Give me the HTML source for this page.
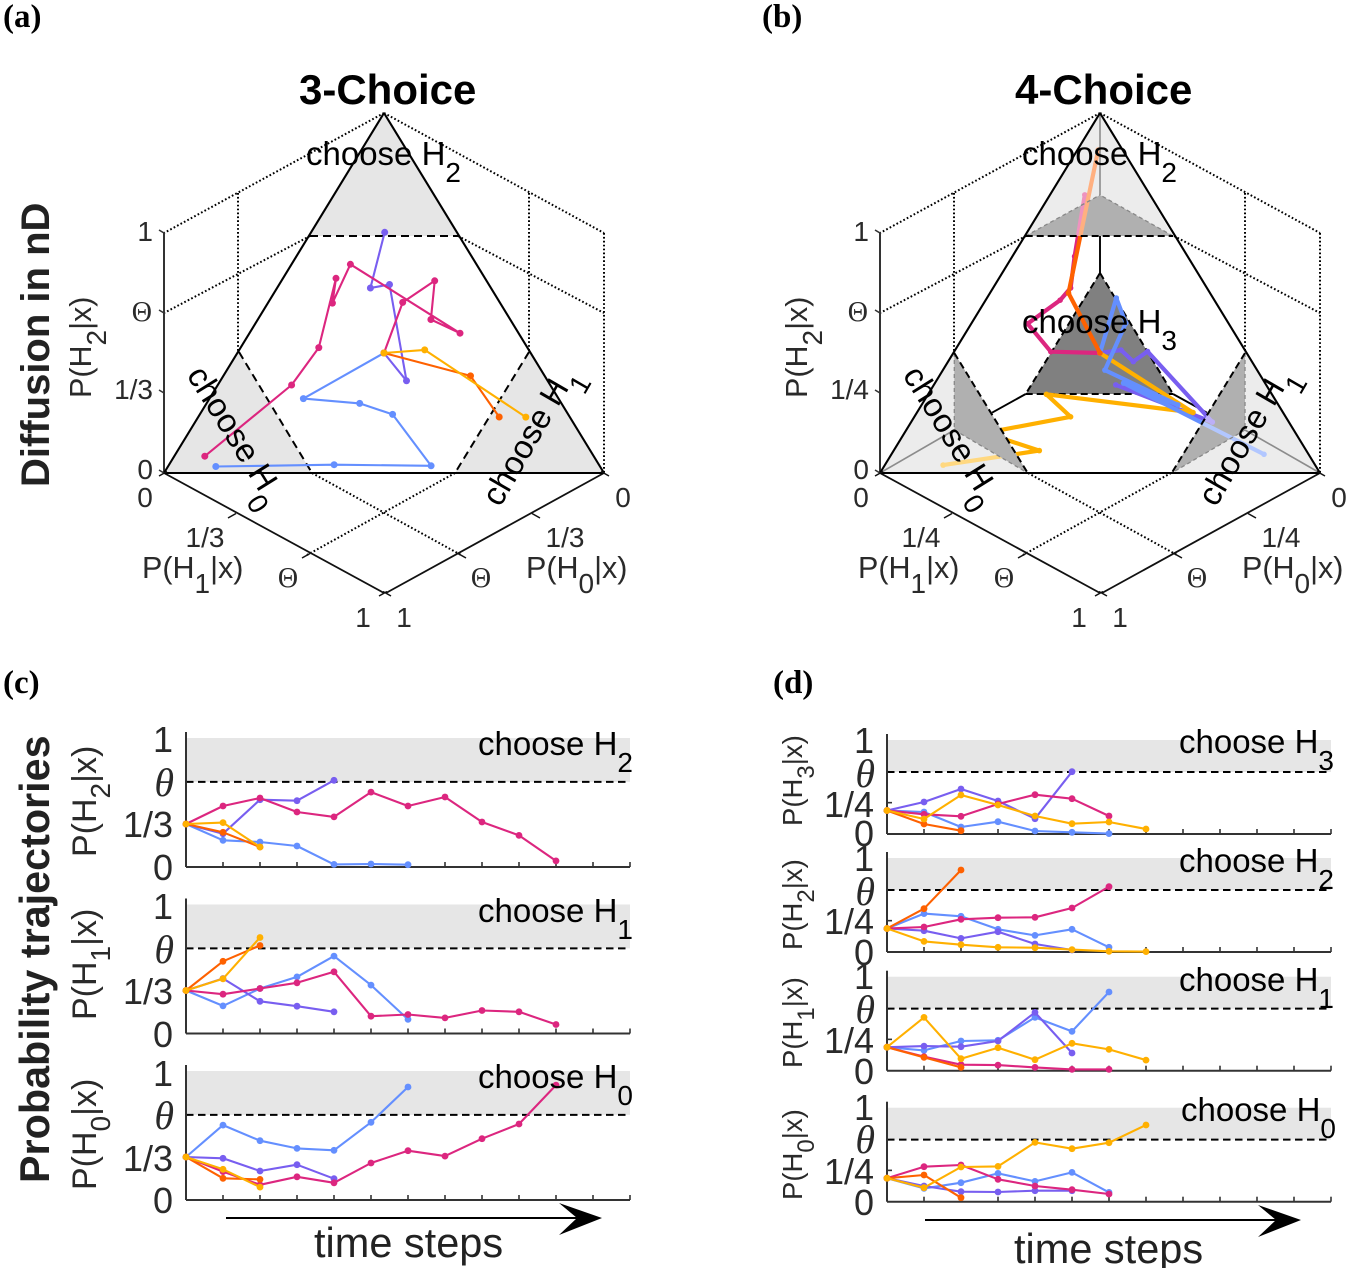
<!DOCTYPE html>
<html lang="en">
<head>
<meta charset="utf-8">
<title>Diffusion in nD and probability trajectories</title>
<style>
html,body{margin:0;padding:0;background:#fff}
svg{display:block}
text{font-family:"Liberation Sans",sans-serif;fill:#1c1c1c}
.choose{font-size:33px;fill:#000}
.choose2{font-size:33px;fill:#000}
.tick28{font-size:28px;fill:#2a2a2a}
.tick36{font-size:36px;fill:#2a2a2a}
.theta{font-family:"Liberation Serif",serif;font-style:italic;font-size:40px;fill:#2a2a2a}
.bigtheta{font-family:"Liberation Serif",serif;font-size:28px;fill:#2a2a2a}
.lab30{font-size:30.5px;fill:#2a2a2a}
.lab34{font-size:34px;fill:#2a2a2a}
.lab27{font-size:27.5px;fill:#2a2a2a}
.title{font-size:42px;font-weight:bold;fill:#000}
.side{font-size:40px;font-weight:bold;fill:#222}
.panel{font-family:"Liberation Serif",serif;font-weight:bold;font-size:33px;fill:#000}
.time{font-size:41.5px;fill:#222}
</style>
</head>
<body>
<svg id="fig" xmlns="http://www.w3.org/2000/svg" width="1346" height="1268" viewBox="0 0 1346 1268">
<g id="marks"></g>
<g id="labels">
<text class="panel" x="3" y="27">(a)</text>
<text class="panel" x="762" y="27">(b)</text>
<text class="panel" x="3" y="693">(c)</text>
<text class="panel" x="773" y="693">(d)</text>
<text class="title" x="299" y="104">3-Choice</text>
<text class="title" x="1015" y="104">4-Choice</text>
<text class="side" transform="translate(49,487) rotate(-90)">Diffusion in nD</text>
<text class="side" style="font-size:41.3px" transform="translate(49,1183) rotate(-90)">Probability trajectories</text>

<!-- Panel a -->
<text class="choose" x="306" y="165">choose H<tspan dy="17" font-size="28">2</tspan></text>
<text class="choose" transform="translate(186,375) rotate(58)">choose H<tspan dy="17" font-size="28">0</tspan></text>
<text class="choose" transform="translate(500,508) rotate(-60)">choose H<tspan dy="17" font-size="28">1</tspan></text>
<text class="tick28" x="153" y="241" text-anchor="end">1</text>
<text class="bigtheta" x="152" y="321" text-anchor="end">&#920;</text>
<text class="tick28" x="153" y="399" text-anchor="end">1/3</text>
<text class="tick28" x="153" y="479" text-anchor="end">0</text>
<text class="lab30" transform="translate(91,398) rotate(-90)">P(H<tspan dy="15" font-size="28">2</tspan><tspan dy="-15">|x)</tspan></text>
<text class="tick28" x="145" y="507" text-anchor="middle">0</text>
<text class="tick28" x="205" y="547" text-anchor="middle">1/3</text>
<text class="lab30" x="142" y="578">P(H<tspan dy="15" font-size="28">1</tspan><tspan dy="-15">|x)</tspan></text>
<text class="bigtheta" x="288" y="587" text-anchor="middle">&#920;</text>
<text class="tick28" x="363" y="627" text-anchor="middle">1</text>
<text class="tick28" x="404" y="627" text-anchor="middle">1</text>
<text class="bigtheta" x="481" y="587" text-anchor="middle">&#920;</text>
<text class="tick28" x="565" y="547" text-anchor="middle">1/3</text>
<text class="lab30" x="526" y="578">P(H<tspan dy="15" font-size="28">0</tspan><tspan dy="-15">|x)</tspan></text>
<text class="tick28" x="623" y="507" text-anchor="middle">0</text>

<!-- Panel b -->
<text class="choose" x="1022" y="165">choose H<tspan dy="17" font-size="28">2</tspan></text>
<text class="choose" x="1022" y="333">choose H<tspan dy="17" font-size="28">3</tspan></text>
<text class="choose" transform="translate(902,375) rotate(58)">choose H<tspan dy="17" font-size="28">0</tspan></text>
<text class="choose" transform="translate(1216,508) rotate(-60)">choose H<tspan dy="17" font-size="28">1</tspan></text>
<text class="tick28" x="869" y="241" text-anchor="end">1</text>
<text class="bigtheta" x="868" y="321" text-anchor="end">&#920;</text>
<text class="tick28" x="869" y="399" text-anchor="end">1/4</text>
<text class="tick28" x="869" y="479" text-anchor="end">0</text>
<text class="lab30" transform="translate(807,398) rotate(-90)">P(H<tspan dy="15" font-size="28">2</tspan><tspan dy="-15">|x)</tspan></text>
<text class="tick28" x="861" y="507" text-anchor="middle">0</text>
<text class="tick28" x="921" y="547" text-anchor="middle">1/4</text>
<text class="lab30" x="858" y="578">P(H<tspan dy="15" font-size="28">1</tspan><tspan dy="-15">|x)</tspan></text>
<text class="bigtheta" x="1004" y="587" text-anchor="middle">&#920;</text>
<text class="tick28" x="1079" y="627" text-anchor="middle">1</text>
<text class="tick28" x="1120" y="627" text-anchor="middle">1</text>
<text class="bigtheta" x="1197" y="587" text-anchor="middle">&#920;</text>
<text class="tick28" x="1281" y="547" text-anchor="middle">1/4</text>
<text class="lab30" x="1242" y="578">P(H<tspan dy="15" font-size="28">0</tspan><tspan dy="-15">|x)</tspan></text>
<text class="tick28" x="1339" y="507" text-anchor="middle">0</text>

<!-- Panel c -->
<text class="choose2" x="478" y="755">choose H<tspan dy="17" font-size="28">2</tspan></text>
<text class="choose2" x="478" y="922">choose H<tspan dy="17" font-size="28">1</tspan></text>
<text class="choose2" x="478" y="1088">choose H<tspan dy="17" font-size="28">0</tspan></text>
<text class="tick36" x="173" y="752" text-anchor="end">1</text>
<text class="theta" x="174" y="796" text-anchor="end">&#952;</text>
<text class="tick36" x="173" y="837" text-anchor="end">1/3</text>
<text class="tick36" x="173" y="880" text-anchor="end">0</text>
<text class="tick36" x="173" y="919" text-anchor="end">1</text>
<text class="theta" x="174" y="963" text-anchor="end">&#952;</text>
<text class="tick36" x="173" y="1004" text-anchor="end">1/3</text>
<text class="tick36" x="173" y="1047" text-anchor="end">0</text>
<text class="tick36" x="173" y="1086" text-anchor="end">1</text>
<text class="theta" x="174" y="1129" text-anchor="end">&#952;</text>
<text class="tick36" x="173" y="1171" text-anchor="end">1/3</text>
<text class="tick36" x="173" y="1213" text-anchor="end">0</text>
<text class="lab34" transform="translate(96,857) rotate(-90)">P(H<tspan dy="14" font-size="28">2</tspan><tspan dy="-14">|x)</tspan></text>
<text class="lab34" transform="translate(96,1020) rotate(-90)">P(H<tspan dy="14" font-size="28">1</tspan><tspan dy="-14">|x)</tspan></text>
<text class="lab34" transform="translate(96,1190) rotate(-90)">P(H<tspan dy="14" font-size="28">0</tspan><tspan dy="-14">|x)</tspan></text>
<text class="time" x="314" y="1257">time steps</text>

<!-- Panel d -->
<text class="choose2" x="1179" y="753">choose H<tspan dy="17" font-size="28">3</tspan></text>
<text class="choose2" x="1179" y="872">choose H<tspan dy="17" font-size="28">2</tspan></text>
<text class="choose2" x="1179" y="991">choose H<tspan dy="17" font-size="28">1</tspan></text>
<text class="choose2" x="1181" y="1121">choose H<tspan dy="17" font-size="28">0</tspan></text>
<text class="tick36" x="874" y="753" text-anchor="end">1</text>
<text class="theta" x="875" y="787" text-anchor="end">&#952;</text>
<text class="tick36" x="874" y="817" text-anchor="end">1/4</text>
<text class="tick36" x="874" y="846" text-anchor="end">0</text>
<text class="tick36" x="874" y="871" text-anchor="end">1</text>
<text class="theta" x="875" y="905" text-anchor="end">&#952;</text>
<text class="tick36" x="874" y="934" text-anchor="end">1/4</text>
<text class="tick36" x="874" y="965" text-anchor="end">0</text>
<text class="tick36" x="874" y="989" text-anchor="end">1</text>
<text class="theta" x="875" y="1023" text-anchor="end">&#952;</text>
<text class="tick36" x="874" y="1053" text-anchor="end">1/4</text>
<text class="tick36" x="874" y="1084" text-anchor="end">0</text>
<text class="tick36" x="874" y="1120" text-anchor="end">1</text>
<text class="theta" x="875" y="1153" text-anchor="end">&#952;</text>
<text class="tick36" x="874" y="1184" text-anchor="end">1/4</text>
<text class="tick36" x="874" y="1215" text-anchor="end">0</text>
<text class="lab27" transform="translate(802,826) rotate(-90)">P(H<tspan dy="12" font-size="24">3</tspan><tspan dy="-12">|x)</tspan></text>
<text class="lab27" transform="translate(802,950) rotate(-90)">P(H<tspan dy="12" font-size="24">2</tspan><tspan dy="-12">|x)</tspan></text>
<text class="lab27" transform="translate(802,1068) rotate(-90)">P(H<tspan dy="12" font-size="24">1</tspan><tspan dy="-12">|x)</tspan></text>
<text class="lab27" transform="translate(802,1200) rotate(-90)">P(H<tspan dy="12" font-size="24">0</tspan><tspan dy="-12">|x)</tspan></text>
<text class="time" x="1014" y="1263">time steps</text>
</g>
</svg>
<script>
// ---- 3-choice trajectories (panels a, c) ----
const blue3H0=[.333,.581,.46,.4,.385,.602,.876];
const blue3H1=[.333,.214,.349,.439,.6,.375,.109];
const blue3H2=[.333,.207,.194,.163,.02,.023,.018];
const purple3H0=[.333,.323,.225,.274,.165];
const purple3H1=[.333,.426,.25,.212,.168];
const purple3H2=[.333,.258,.522,.514,.672];
const magenta3H0=[.333,.22,.118,.18,.133,.287,.382,.34,.475,.589,.891];
const magenta3H1=[.333,.305,.349,.393,.478,.134,.147,.121,.178,.168,.07];
const magenta3H2=[.333,.473,.535,.426,.388,.581,.473,.543,.349,.245,.047];
const orange3H0=[.333,.168,.16];
const orange3H1=[.333,.56,.682];
const orange3H2=[.333,.269,.155];
const yellow3H0=[.333,.238,.1];
const yellow3H1=[.333,.424,.744];
const yellow3H2=[.333,.344,.155];

// ---- 4-choice trajectories (panels b, d) ----
const blue4H0=[.25,.142,.202,.301,.216,.312,.099];
const blue4H1=[.25,.216,.316,.323,.567,.418,.837];
const blue4H2=[.25,.408,.38,.241,.177,.241,.05];
const blue4H3=[.25,.234,.074,.131,.032,.018,.004];
const purple4H0=[.25,.167,.106,.103,.117,.117];
const purple4H1=[.25,.262,.255,.316,.62,.188];
const purple4H2=[.25,.227,.145,.216,.085,.021];
const purple4H3=[.25,.34,.479,.351,.163,.663];
const magenta4H0=[.25,.372,.39,.238,.167,.128,.082];
const magenta4H1=[.25,.149,.064,.06,.035,.014,.014];
const magenta4H2=[.25,.266,.348,.365,.369,.468,.695];
const magenta4H3=[.25,.21,.188,.319,.418,.376,.191];
const orange4H0=[.25,.284,.043];
const orange4H1=[.25,.142,.035];
const orange4H2=[.25,.461,.872];
const orange4H3=[.25,.106,.035];
const yellow4H0=[.25,.149,.369,.376,.631,.564,.628,.816];
const yellow4H1=[.25,.567,.128,.245,.117,.291,.227,.113];
const yellow4H2=[.25,.113,.078,.05,.046,.025,.007,.004];
const yellow4H3=[.25,.16,.415,.309,.191,.11,.128,.053];

const colBlue='#648FFF', colPurple='#785EF0', colMagenta='#DC267F', colOrange='#FE6100', colYellow='#FFB000';
const threshold=0.66;

const NS='http://www.w3.org/2000/svg';
const root=document.getElementById('marks');
function mk(tag,parent,name,attrs){
  const el=document.createElementNS(NS,tag);
  
  
  for(const k in attrs) el.setAttribute(k,attrs[k]);
  parent.appendChild(el);
  return el;
}
function line(p,name,x1,y1,x2,y2,stroke,w,dash){
  const a={x1:x1,y1:y1,x2:x2,y2:y2,stroke:stroke,'stroke-width':w};
  if(dash) a['stroke-dasharray']=dash;
  return mk('line',p,name,a);
}
function poly(p,name,pts,fill,extra){
  const a=Object.assign({points:pts.map(q=>q.join(',')).join(' '),fill:fill},extra||{});
  return mk('polygon',p,name,a);
}
function group(name){return mk('g',root,name,{});}

// Axis functions for the simplex plots
function simplexX(dx,p0,p1,p2,p3){
  const s=p0+p1+p2+(p3||0);
  const c=(p3||0)/3;
  return dx+(164*(p0+c)+604*(p1+c)+384*(p2+c))/s;
}
function simplexY(p0,p1,p2,p3){
  const s=p0+p1+p2+(p3||0);
  const c=(p3||0)/3;
  return 473-360*(p2+c)/s;
}

function simplexFrame(g,dx,pfx){
  const dot='1.7 2.2';
  const L=(n,a,b,c,d)=>line(g,pfx+n,a+dx,b,c+dx,d,'#000',2,dot);
  L('-dotted-top-left',384,113,164,233);
  L('-dotted-top-right',384,113,604,233);
  L('-dotted-theta-left',310,236,164,313);
  L('-dotted-theta-right',458,236,604,313);
  L('-dotted-vert-left',238,193,238,352);
  L('-dotted-vert-right',529,193,529,352);
  L('-dotted-right-edge',604,233,604,473);
  L('-dotted-bottom-left',312,473,461,555);
  L('-dotted-bottom-right',455,473,307,555);
}
function simplexAxes(g,dx,pfx){
  const S=(n,a,b,c,d,w,col)=>line(g,pfx+n,a+dx,b,c+dx,d,col||'#111',w||1.8);
  S('-axis-vertical',164,233,164,473,2,'#333');
  S('-axis-lower-left',164,473,384,593);
  S('-axis-lower-right',604,473,386,593);
  S('-tri-left',164,473,384,113,2.1,'#000');
  S('-tri-right',604,473,384,113,2.1,'#000');
  S('-tri-bottom',164,473,604,473,2.1,'#000');
  [233,313,393,473].forEach(y=>S('-tick-left',159,y-3,164,y,1.6,'#333'));
  [[233,515],[307,555],[164,473],[384,593]].forEach(q=>S('-tick-lower-left',q[0]-5,q[1]+3,q[0]+3,q[1]-1.5,1.5));
  [[535,515],[461,555],[604,473],[386,593]].forEach(q=>S('-tick-lower-right',q[0]-3,q[1]-1.5,q[0]+5,q[1]+3,1.5));
}
function trajectory(g,name,dx,col,w,r,P0,P1,P2,P3){
  const pts=P0.map((_,i)=>[simplexX(dx,P0[i],P1[i],P2[i],P3?P3[i]:0),simplexY(P0[i],P1[i],P2[i],P3?P3[i]:0)]);
  mk('polyline',g,name+'-line',{points:pts.map(q=>q.map(v=>v.toFixed(1)).join(',')).join(' '),fill:'none',stroke:col,'stroke-width':w,'stroke-linejoin':'round','stroke-linecap':'round'});
  pts.forEach(q=>mk('circle',g,name+'-point',{cx:q[0].toFixed(1),cy:q[1].toFixed(1),r:r,fill:col}));
}

// ---- Panel a ----
{
  const g=group('panel-a');
  const dx=0;
  poly(g,'a-region-h2',[[384,113],[310,236],[458,236]],'#e6e6e6');
  poly(g,'a-region-h0',[[164,473],[239,352],[312,473]],'#e6e6e6');
  poly(g,'a-region-h1',[[604,473],[529,352],[455,473]],'#e6e6e6');
  simplexFrame(g,dx,'a');
  simplexAxes(g,dx,'a');
  line(g,'a-threshold-h2',310,236,458,236,'#000',2,'8 5');
  line(g,'a-threshold-h0',239,352,312,473,'#000',2,'8 5');
  line(g,'a-threshold-h1',529,352,455,473,'#000',2,'8 5');
  trajectory(g,'a-blue',dx,colBlue,2.1,3.5,blue3H0,blue3H1,blue3H2);
  trajectory(g,'a-purple',dx,colPurple,2.1,3.5,purple3H0,purple3H1,purple3H2);
  trajectory(g,'a-magenta',dx,colMagenta,2.1,3.5,magenta3H0,magenta3H1,magenta3H2);
  trajectory(g,'a-orange',dx,colOrange,2.1,3.5,orange3H0,orange3H1,orange3H2);
  trajectory(g,'a-yellow',dx,colYellow,2.1,3.5,yellow3H0,yellow3H1,yellow3H2);
}

// ---- Panel b ----
{
  const g=group('panel-b');
  const dx=716;
  const topOuter=[[1099.5,113],[1025.7,236],[1173,236]];
  const leftOuter=[[880,473],[954.3,353],[1027.7,473]];
  const rightOuter=[[1320,473],[1245,353],[1171.7,473]];
  const topDark=[[1025.7,236],[1100,195],[1173,236]];
  const leftDark=[[954.3,353],[1027.7,473],[954.3,430]];
  const rightDark=[[1245,353],[1171.7,473],[1245,430]];
  poly(g,'b-region-h2',topOuter,'#d9d9d9');
  poly(g,'b-region-h0',leftOuter,'#d9d9d9');
  poly(g,'b-region-h1',rightOuter,'#d9d9d9');
  poly(g,'b-inner-h2',topDark,'#616161');
  poly(g,'b-inner-h1',rightDark,'#616161');
  poly(g,'b-region-h3',[[1100,273],[1025.7,394],[1173,394]],'#808080');
  simplexFrame(g,dx,'b');
  line(g,'b-edge-center',1100,236,1100,273,'#000',1.9);
  line(g,'b-edge-left',992,412.7,1025.7,394,'#000',1.9);
  line(g,'b-edge-right',1173,394,1207,412.7,'#000',1.9);
  line(g,'b-threshold-h3-a',1100,273,1025.7,394,'#000',2,'7 4');
  line(g,'b-threshold-h3-b',1100,273,1173,394,'#000',2,'7 4');
  line(g,'b-threshold-h3-c',1025.7,394,1173,394,'#000',2,'7 4');
  trajectory(g,'b-purple',dx,colPurple,4.2,2.8,purple4H0,purple4H1,purple4H2,purple4H3);
  trajectory(g,'b-magenta',dx,colMagenta,4.2,2.8,magenta4H0,magenta4H1,magenta4H2,magenta4H3);
  trajectory(g,'b-yellow',dx,colYellow,4.2,2.8,yellow4H0,yellow4H1,yellow4H2,yellow4H3);
  trajectory(g,'b-blue',dx,colBlue,4.2,2.8,blue4H0,blue4H1,blue4H2,blue4H3);
  trajectory(g,'b-orange',dx,colOrange,4.2,2.8,orange4H0,orange4H1,orange4H2,orange4H3);
  const veil={'fill-opacity':0.5};
  poly(g,'b-veil-h2',topOuter,'#fff',veil);
  poly(g,'b-veil-h0',leftOuter,'#fff',veil);
  poly(g,'b-veil-h1',rightOuter,'#fff',veil);
  poly(g,'b-inner-h0',leftDark,'#b0b0b0');
  line(g,'b-gray-top',1100,113,1100,195,'#8c8c8c',1.6);
  line(g,'b-gray-left',880,473,954.3,430,'#8c8c8c',1.6);
  line(g,'b-gray-right',1320,473,1245,430,'#8c8c8c',1.6);
  const gd='4 3';
  line(g,'b-inner-top-a',1025.7,236,1100,195,'#888',1.3,gd);
  line(g,'b-inner-top-b',1173,236,1100,195,'#888',1.3,gd);
  line(g,'b-inner-left-a',954.3,353,954.3,430,'#888',1.3,gd);
  line(g,'b-inner-left-b',954.3,430,1027.7,473,'#888',1.3,gd);
  line(g,'b-inner-right-a',1245,353,1245,430,'#888',1.3,gd);
  line(g,'b-inner-right-b',1245,430,1171.7,473,'#888',1.3,gd);
  simplexAxes(g,dx,'b');
  line(g,'b-threshold-h2',1025.7,236,1173,236,'#000',2,'7 4');
  line(g,'b-threshold-h0',954.3,353,1027.7,473,'#000',2,'7 4');
  line(g,'b-threshold-h1',1245,353,1171.7,473,'#000',2,'7 4');
}

// ---- Panels c, d: probability vs time-step ----
function stepPlot(name,x0,step,bottom,scale,ticks,series,extraTick){
  const g=group(name);
  const xAt=i=>x0+step*i;
  const yAt=v=>bottom-scale*v;
  mk('rect',g,name+'-choice-band',{x:x0,y:yAt(1),width:step*ticks,height:scale*(1-threshold),fill:'#e6e6e6'});
  line(g,name+'-threshold',x0,yAt(threshold),xAt(ticks),yAt(threshold),'#000',2,'7.5 4.5');
  line(g,name+'-y-axis',x0,yAt(1)-6,x0,bottom,'#333',2);
  line(g,name+'-x-axis',x0,bottom,xAt(ticks),bottom,'#333',2);
  for(let i=1;i<=ticks;i++){
    line(g,name+'-x-tick',xAt(i),bottom,xAt(i),bottom-5,'#333',1.6);
  }
  if(extraTick) line(g,name+'-y-tick',x0,yAt(1/3),x0+5,yAt(1/3),'#333',1.6);
  series.forEach(s=>{
    const pts=s.values.map((v,i)=>[xAt(i),yAt(v)]);
    mk('polyline',g,name+'-'+s.name+'-line',{points:pts.map(q=>q[0].toFixed(1)+','+q[1].toFixed(1)).join(' '),fill:'none',stroke:s.color,'stroke-width':2.1,'stroke-linejoin':'round'});
    pts.forEach(q=>mk('circle',g,name+'-'+s.name+'-point',{cx:q[0].toFixed(1),cy:q[1].toFixed(1),r:3.4,fill:s.color}));
  });
}
function ser3(b,p,m,o,y){
  return [{name:'blue',color:colBlue,values:b},{name:'purple',color:colPurple,values:p},{name:'magenta',color:colMagenta,values:m},{name:'orange',color:colOrange,values:o},{name:'yellow',color:colYellow,values:y}];
}
stepPlot('c-h2-plot',186,37,867,129,12,ser3(blue3H2,purple3H2,magenta3H2,orange3H2,yellow3H2),false);
stepPlot('c-h1-plot',186,37,1033.5,129,12,ser3(blue3H1,purple3H1,magenta3H1,orange3H1,yellow3H1),false);
stepPlot('c-h0-plot',186,37,1200,129,12,ser3(blue3H0,purple3H0,magenta3H0,orange3H0,yellow3H0),false);
stepPlot('d-h3-plot',887,37,834,94,12,ser3(blue4H3,purple4H3,magenta4H3,orange4H3,yellow4H3),true);
stepPlot('d-h2-plot',887,37,952,94,12,ser3(blue4H2,purple4H2,magenta4H2,orange4H2,yellow4H2),true);
stepPlot('d-h1-plot',887,37,1070.7,94,12,ser3(blue4H1,purple4H1,magenta4H1,orange4H1,yellow4H1),true);
stepPlot('d-h0-plot',887,37,1201.7,94,12,ser3(blue4H0,purple4H0,magenta4H0,orange4H0,yellow4H0),true);

// ---- time arrows ----
{
  const g=group('time-arrows');
  line(g,'c-time-arrow-shaft',226,1218,585,1218,'#000',2);
  poly(g,'c-time-arrow-head',[[559,1203],[602,1218],[559,1235],[577,1218]],'#000');
  line(g,'d-time-arrow-shaft',925,1220,1285,1220,'#000',2);
  poly(g,'d-time-arrow-head',[[1258,1205],[1301,1220],[1258,1237],[1276,1220]],'#000');
}
</script>
</body>
</html>
